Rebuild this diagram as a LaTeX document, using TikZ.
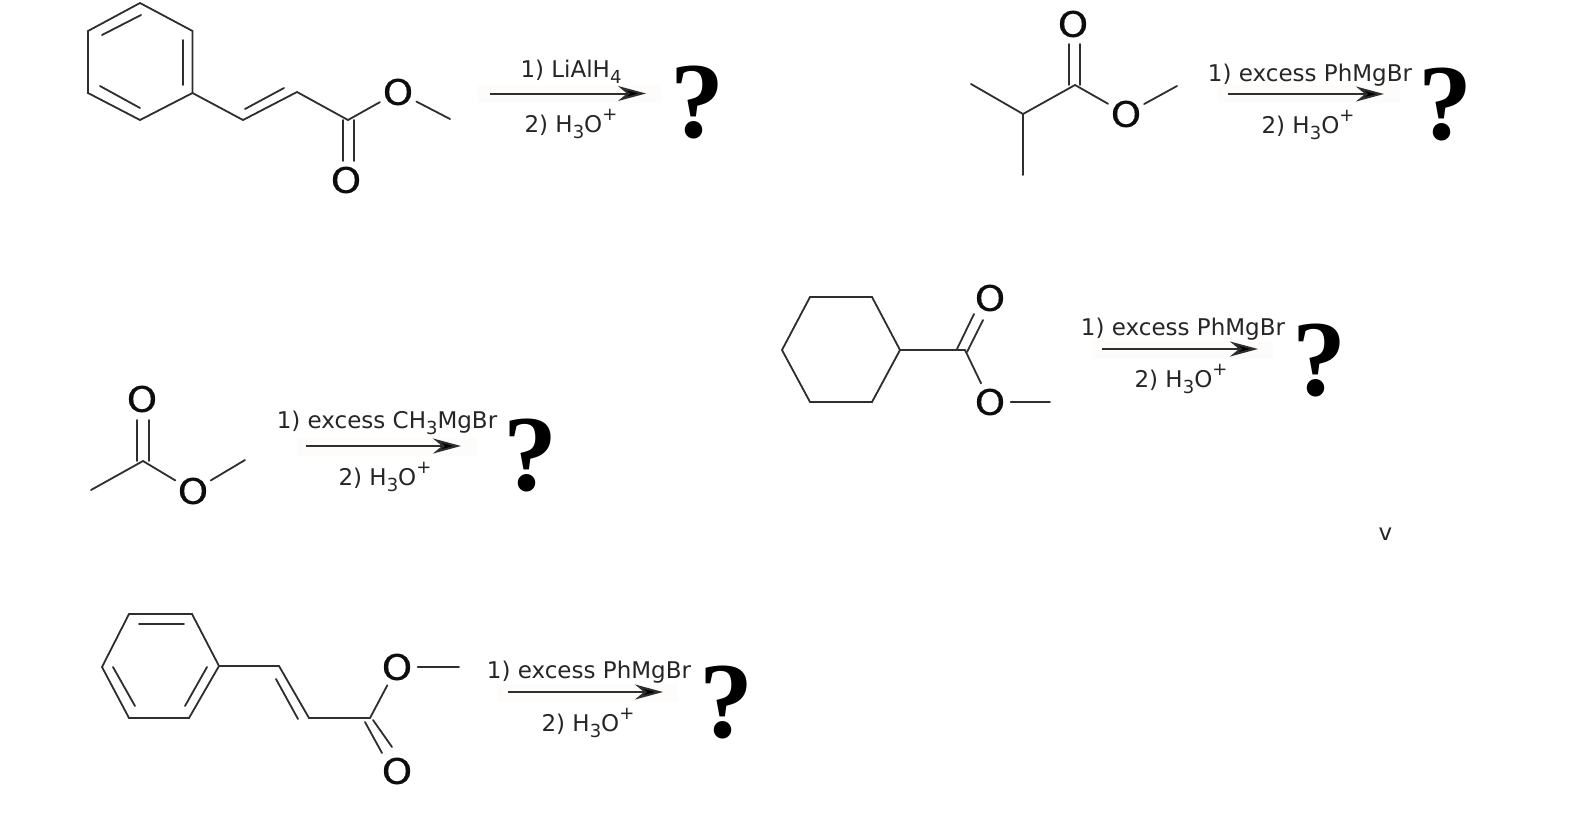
\documentclass[tikz,border=0pt]{standalone}
\usepackage{fontspec}
\setmainfont{DejaVu Sans}
\newfontfamily\qfont{Liberation Serif}
\newfontfamily\atomf[FakeStretch=1.1,FakeBold=0.6]{DejaVu Sans}
\usetikzlibrary{arrows.meta}
\newcommand\dnsc[1]{\raisebox{-0.3em}{\fontsize{18}{18}\selectfont #1}}
\newcommand\upsc[1]{\raisebox{0.5em}{\fontsize{18}{18}\selectfont #1}}
\definecolor{bondc}{HTML}{2E2E2E}
\definecolor{bandc}{HTML}{FDFCFB}
\tikzset{
  bond/.style={draw=bondc,line width=1.8pt,line cap=round},
  atom/.style={circle,inner sep=0pt,minimum size=41pt,font=\atomf\fontsize{35}{35}\selectfont,text=black!95},
  rx/.style={anchor=base,inner sep=0pt,font=\fontsize{23}{27}\selectfont,text=black!85},
  qm/.style={anchor=base,inner sep=0pt,font=\qfont\bfseries\fontsize{108}{108}\selectfont},
  rarrow/.style={draw=bondc,line width=2pt,-{Stealth[length=28pt,width=15pt,inset=9pt,fill=black]}},
  band/.style={fill=bandc,draw=none}
}
\begin{document}
\begin{tikzpicture}[x=1pt,y=-1pt]
\useasboundingbox (0,0) rectangle (1594,836);
\fill[white] (0,0) rectangle (1594,836);
% bands
\fill[band] (478,85) rectangle (662,103);
\fill[band] (1217,85) rectangle (1400,103);
\fill[band] (1092,341) rectangle (1273,359);
\fill[band] (297,438) rectangle (477,456);
\fill[band] (497,684) rectangle (678,702);

% ---- molecule A
\coordinate (a1) at (140,3); \coordinate (a2) at (192.5,31); \coordinate (a3) at (192.5,93);
\coordinate (a4) at (140,120); \coordinate (a5) at (88,93); \coordinate (a6) at (88,31);
\coordinate (a7) at (243,120); \coordinate (a8) at (297,92); \coordinate (a9) at (348,120);
\coordinate (ai1) at (102,35); \coordinate (ai2) at (141,15);
\coordinate (ai3) at (183,40); \coordinate (ai4) at (183,85);
\coordinate (ai5) at (100,86); \coordinate (ai6) at (140,108);
\coordinate (ai7) at (245,109); \coordinate (ai8) at (284,88);
\coordinate (ad1) at (343,120); \coordinate (ad2) at (343,161);
\coordinate (ad3) at (354,120); \coordinate (ad4) at (354,161);
\coordinate (ame) at (450,119);
\node[atom] (ao1) at (398,92) {O};
\node[atom] (ao2) at (346,180) {O};
\draw[bond] (a1)--(a2)--(a3)--(a4)--(a5)--(a6)--cycle;
\draw[bond] (ai1)--(ai2);
\draw[bond] (ai3)--(ai4);
\draw[bond] (ai5)--(ai6);
\draw[bond] (a3)--(a7)--(a8)--(a9);
\draw[bond] (ai7)--(ai8);
\draw[bond] (a9)--(ao1);
\draw[bond] (ao1)--(ame);
\draw[bond] (ad1)--(ad2);
\draw[bond] (ad3)--(ad4);
\coordinate (ra1) at (490,93.5); \coordinate (ra2) at (646,93.5);
\draw[rarrow] (ra1)--(ra2);
\node[rx] (rat) at (571,77) {1) LiAlH\dnsc{4}};
\node[rx] (rab) at (571,132) {2) H\dnsc{3}O\upsc{+}};
\node[qm] (raq) at (697,137) {?};

% ---- molecule B
\coordinate (b1) at (971,84); \coordinate (b2) at (1023,114); \coordinate (b3) at (1023,175);
\coordinate (b4) at (1075,85);
\coordinate (bd1) at (1069,85); \coordinate (bd2) at (1069,44);
\coordinate (bd3) at (1080,85); \coordinate (bd4) at (1080,44);
\coordinate (bme) at (1177,86);
\node[atom] (bo1) at (1073,24) {O};
\node[atom] (bo2) at (1126,114) {O};
\draw[bond] (b1)--(b2)--(b4);
\draw[bond] (b2)--(b3);
\draw[bond] (bd1)--(bd2);
\draw[bond] (bd3)--(bd4);
\draw[bond] (b4)--(bo2);
\draw[bond] (bo2)--(bme);
\coordinate (rb1) at (1228,94); \coordinate (rb2) at (1384,94);
\draw[rarrow] (rb1)--(rb2);
\node[rx] (rbt) at (1310,81) {1) excess PhMgBr};
\node[rx] (rbb) at (1308,133) {2) H\dnsc{3}O\upsc{+}};
\node[qm] (rbq) at (1445,139) {?};

% ---- molecule C
\coordinate (c1) at (810,297); \coordinate (c2) at (872,297); \coordinate (c3) at (900,350);
\coordinate (c4) at (872,402); \coordinate (c5) at (810,402); \coordinate (c6) at (782,350);
\coordinate (c7) at (965,350);
\coordinate (cd1) at (957,349); \coordinate (cd2) at (974,314);
\coordinate (cd3) at (967,352); \coordinate (cd4) at (983,320);
\coordinate (cme) at (1050,402);
\node[atom] (co1) at (990,298) {O};
\node[atom] (co2) at (990,402) {O};
\draw[bond] (c1)--(c2)--(c3)--(c4)--(c5)--(c6)--cycle;
\draw[bond] (c3)--(c7);
\draw[bond] (cd1)--(cd2);
\draw[bond] (cd3)--(cd4);
\draw[bond] (c7)--(co2);
\draw[bond] (co2)--(cme);
\coordinate (rc1) at (1102,349); \coordinate (rc2) at (1258,349);
\draw[rarrow] (rc1)--(rc2);
\node[rx] (rct) at (1183,335) {1) excess PhMgBr};
\node[rx] (rcb) at (1181,387) {2) H\dnsc{3}O\upsc{+}};
\node[qm] (rcq) at (1319,395) {?};

% ---- molecule D
\coordinate (d1) at (91,490); \coordinate (d2) at (143,461);
\coordinate (dd1) at (137,461); \coordinate (dd2) at (137,420);
\coordinate (dd3) at (149,461); \coordinate (dd4) at (149,420);
\coordinate (dme) at (245,460);
\node[atom] (do1) at (142,399) {O};
\node[atom] (do2) at (193,491) {O};
\draw[bond] (d1)--(d2);
\draw[bond] (dd1)--(dd2);
\draw[bond] (dd3)--(dd4);
\draw[bond] (d2)--(do2);
\draw[bond] (do2)--(dme);
\coordinate (rd1) at (306,446); \coordinate (rd2) at (461,446);
\draw[rarrow] (rd1)--(rd2);
\node[rx] (rdt) at (387,428) {1) excess CH\dnsc{3}MgBr};
\node[rx] (rdb) at (385,485) {2) H\dnsc{3}O\upsc{+}};
\node[qm] (rdq) at (530,490) {?};

% ---- molecule E
\coordinate (e1) at (129,614); \coordinate (e2) at (192,614); \coordinate (e3) at (219,666);
\coordinate (e4) at (189,718); \coordinate (e5) at (129,718); \coordinate (e6) at (102,667);
\coordinate (e7) at (279,666); \coordinate (e8) at (309,718); \coordinate (e9) at (370,718);
\coordinate (ei1) at (139,624); \coordinate (ei2) at (184,624);
\coordinate (ei3) at (185,706); \coordinate (ei4) at (207,667);
\coordinate (ei5) at (113,667); \coordinate (ei6) at (135,706);
\coordinate (ei7) at (276,679); \coordinate (ei8) at (298,719);
\coordinate (ed1) at (365,722); \coordinate (ed2) at (382,753);
\coordinate (ed3) at (373,720); \coordinate (ed4) at (392,747);
\coordinate (eme) at (459,667);
\node[atom] (eo1) at (397,667) {O};
\node[atom] (eo2) at (397,771) {O};
\draw[bond] (e1)--(e2)--(e3)--(e4)--(e5)--(e6)--cycle;
\draw[bond] (ei1)--(ei2);
\draw[bond] (ei3)--(ei4);
\draw[bond] (ei5)--(ei6);
\draw[bond] (e3)--(e7)--(e8)--(e9);
\draw[bond] (ei7)--(ei8);
\draw[bond] (e9)--(eo1);
\draw[bond] (eo1)--(eme);
\draw[bond] (ed1)--(ed2);
\draw[bond] (ed3)--(ed4);
\coordinate (re1) at (508,692); \coordinate (re2) at (663,692);
\draw[rarrow] (re1)--(re2);
\node[rx] (ret) at (589,678) {1) excess PhMgBr};
\node[rx] (reb) at (588,731) {2) H\dnsc{3}O\upsc{+}};
\node[qm] (req) at (726,737) {?};

\node[rx] (vv) at (1385.5,540) {v};
\end{tikzpicture}
\end{document}
